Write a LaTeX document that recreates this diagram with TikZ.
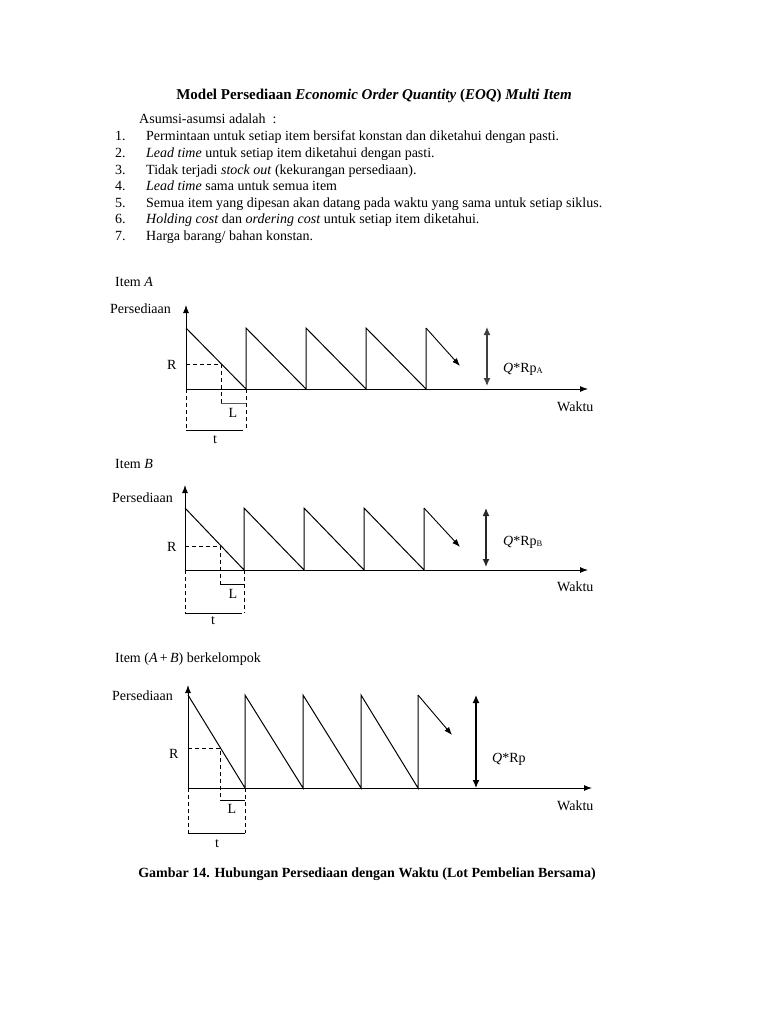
\documentclass[tikz,border=0pt]{standalone}
\usepackage{fontspec}
\setmainfont{Liberation Serif}
\usetikzlibrary{arrows.meta}
\tikzset{
  txt/.style={inner sep=0pt, anchor=base west, font=\fontsize{14}{17}\selectfont},
  lbl/.style={inner sep=0pt, anchor=base west, font=\fontsize{14}{16}\selectfont},
  lblc/.style={inner sep=0pt, anchor=base, font=\fontsize{14}{16}\selectfont},
  axis/.style={line width=1pt, -{Latex[length=8pt,width=6pt]}},
  saw/.style={line width=1pt},
  dsh/.style={line width=0.9pt, dash pattern=on 4pt off 3pt},
  sol/.style={line width=1pt},
  dbl/.style={line width=1.3pt, {Latex[length=8pt,width=7pt]}-{Latex[length=8pt,width=7pt]}},
  tip/.style={line width=0.9pt, -{Latex[length=8pt,width=6pt]}}
}
\newcommand{\subsc}[1]{\raisebox{-0.1em}{\fontsize{8.5}{9}\selectfont #1}}
\begin{document}
\begin{tikzpicture}[x=1pt,y=-1pt]
\useasboundingbox (0,0) rectangle (768,1024);
% ---------- header text ----------
\node[inner sep=0pt, anchor=base, font=\fontsize{15}{18}\selectfont\bfseries] (title) at (374,100)
  {Model Persediaan \textit{Economic Order Quantity} (\textit{EOQ}) \textit{Multi Item}};
\node[txt] (asumsi) at (139,124) {Asumsi-asumsi adalah\hspace{0.5em}:};
\node[txt] (n1) at (115,141) {1.};
\node[txt] (n2) at (115,157.5) {2.};
\node[txt] (n3) at (115,174.5) {3.};
\node[txt] (n4) at (115,191) {4.};
\node[txt] (n5) at (115,207.5) {5.};
\node[txt] (n6) at (115,224) {6.};
\node[txt] (n7) at (115,240.5) {7.};
\node[txt] (l1) at (146,141) {Permintaan untuk setiap item bersifat konstan dan diketahui dengan pasti.};
\node[txt] (l2) at (146,157.5) {\textit{Lead time} untuk setiap item diketahui dengan pasti.};
\node[txt] (l3) at (146,174.5) {Tidak terjadi \textit{stock out} (kekurangan persediaan).};
\node[txt] (l4) at (146,191) {\textit{Lead time} sama untuk semua item};
\node[txt] (l5) at (146,207.5) {Semua item yang dipesan akan datang pada waktu yang sama untuk setiap siklus.};
\node[txt] (l6) at (146,224) {\textit{Holding cost} dan \textit{ordering cost} untuk setiap item diketahui.};
\node[txt] (l7) at (146,240.5) {Harga barang/ bahan konstan.};
\node[txt] (itemA) at (115,286) {Item \textit{A}};
\node[txt] (itemB) at (115,468) {Item \textit{B}};
\node[txt] (itemAB) at (115,662) {Item (\textit{A}\,+\,\textit{B}) berkelompok};
\node[inner sep=0pt, anchor=base, font=\fontsize{14}{17}\selectfont\bfseries] (caption) at (367,877)
  {Gambar 14. Hubungan Persediaan dengan Waktu (Lot Pembelian Bersama)};

% ---------- Chart A ----------
\coordinate (aO) at (186,389);
\coordinate (aY) at (186,305);
\coordinate (aX) at (588,389);
\draw[axis] (aO) -- (aY);
\draw[axis] (aO) -- (aX);
\coordinate (aP0) at (186,328);
\coordinate (aB1) at (246,389); \coordinate (aP1) at (246,328);
\coordinate (aB2) at (306,389); \coordinate (aP2) at (306,328);
\coordinate (aB3) at (366,389); \coordinate (aP3) at (366,328);
\coordinate (aB4) at (426,389); \coordinate (aP4) at (426,328);
\coordinate (aE) at (460,366);
\draw[saw] (aP0) -- (aB1) -- (aP1) -- (aB2) -- (aP2) -- (aB3) -- (aP3) -- (aB4) -- (aP4);
\draw[tip] (aP4) -- (aE);
\coordinate (aR0) at (186,364); \coordinate (aR1) at (221,364); \coordinate (aR2) at (221,403);
\coordinate (aL2) at (246,403);
\draw[dsh] (aR0) -- (aR1) -- (aR2);
\draw[sol, black!65] (aR2) -- (aL2);
\coordinate (aT0) at (186,430); \coordinate (aT1) at (246,430); \coordinate (aT1s) at (243,430);
\draw[dsh] (aO) -- (aT0);
\draw[dsh] (aB1) -- (aT1);
\draw[sol] (aT0) -- (aT1s);
\coordinate (aQ0) at (487,327); \coordinate (aQ1) at (487,386);
\draw[dbl, black!75] (aQ0) -- (aQ1);
\node[lbl] (aPers) at (110,313) {Persediaan};
\node[lbl] (aRl) at (167,369) {R};
\node[lblc] (aLl) at (233,417) {L};
\node[lblc] (atl) at (215,443) {t};
\node[lbl] (aW) at (557,411) {Waktu};
\node[lbl] (aQl) at (503,372) {\textit{Q}*Rp\subsc{A}};

% ---------- Chart B ----------
\coordinate (bO) at (185,570);
\coordinate (bY) at (185,485);
\coordinate (bX) at (588,570);
\draw[axis] (bO) -- (bY);
\draw[axis] (bO) -- (bX);
\coordinate (bP0) at (185,508);
\coordinate (bB1) at (244,570); \coordinate (bP1) at (244,508);
\coordinate (bB2) at (304,570); \coordinate (bP2) at (304,508);
\coordinate (bB3) at (364,570); \coordinate (bP3) at (364,508);
\coordinate (bB4) at (424,570); \coordinate (bP4) at (424,508);
\coordinate (bE) at (460,547);
\draw[saw] (bP0) -- (bB1) -- (bP1) -- (bB2) -- (bP2) -- (bB3) -- (bP3) -- (bB4) -- (bP4);
\draw[tip] (bP4) -- (bE);
\coordinate (bR0) at (185,546); \coordinate (bR1) at (220,546); \coordinate (bR2) at (220,584);
\coordinate (bL2) at (244,584);
\draw[dsh] (bR0) -- (bR1) -- (bR2);
\draw[sol] (bR2) -- (bL2);
\coordinate (bT0) at (185,613); \coordinate (bT1) at (244,613); \coordinate (bT1s) at (242,613);
\draw[dsh] (bO) -- (bT0);
\draw[dsh] (bB1) -- (bT1);
\draw[sol] (bT0) -- (bT1s);
\coordinate (bQ0) at (486,508); \coordinate (bQ1) at (486,567);
\draw[dbl, black!85] (bQ0) -- (bQ1);
\node[lbl] (bPers) at (112,502) {Persediaan};
\node[lbl] (bRl) at (167,551) {R};
\node[lblc] (bLl) at (233,598) {L};
\node[lblc] (btl) at (213,624) {t};
\node[lbl] (bW) at (557,591) {Waktu};
\node[lbl] (bQl) at (503,545) {\textit{Q}*Rp\subsc{B}};

% ---------- Chart C ----------
\coordinate (cO) at (188,788);
\coordinate (cY) at (188,685);
\coordinate (cX) at (592,788);
\draw[axis] (cO) -- (cY);
\draw[axis] (cO) -- (cX);
\coordinate (cP0) at (188,695);
\coordinate (cB1) at (245,788); \coordinate (cP1) at (245,695);
\coordinate (cB2) at (303,788); \coordinate (cP2) at (303,695);
\coordinate (cB3) at (361,788); \coordinate (cP3) at (361,695);
\coordinate (cB4) at (418,788); \coordinate (cP4) at (418,695);
\coordinate (cE) at (452,735);
\draw[saw] (cP0) -- (cB1) -- (cP1) -- (cB2) -- (cP2) -- (cB3) -- (cP3) -- (cB4) -- (cP4);
\draw[tip] (cP4) -- (cE);
\coordinate (cR0) at (188,748); \coordinate (cR1) at (220,748); \coordinate (cR2) at (220,800);
\coordinate (cL2) at (245,800);
\draw[dsh] (cR0) -- (cR1) -- (cR2);
\draw[sol] (cR2) -- (cL2);
\coordinate (cT0) at (188,833); \coordinate (cT1) at (245,833); \coordinate (cT1s) at (245,833);
\draw[dsh] (cO) -- (cT0);
\draw[dsh] (cB1) -- (cT1);
\draw[sol] (cT0) -- (cT1s);
\coordinate (cQ0) at (476,695); \coordinate (cQ1) at (476,788);
\draw[dbl] (cQ0) -- (cQ1);
\node[lbl] (cPers) at (112,700) {Persediaan};
\node[lbl] (cRl) at (169,758) {R};
\node[lblc] (cLl) at (232,813) {L};
\node[lblc] (ctl) at (217,847) {t};
\node[lbl] (cW) at (557,810) {Waktu};
\node[lbl] (cQl) at (492,762) {\textit{Q}*Rp};
\end{tikzpicture}
\end{document}
